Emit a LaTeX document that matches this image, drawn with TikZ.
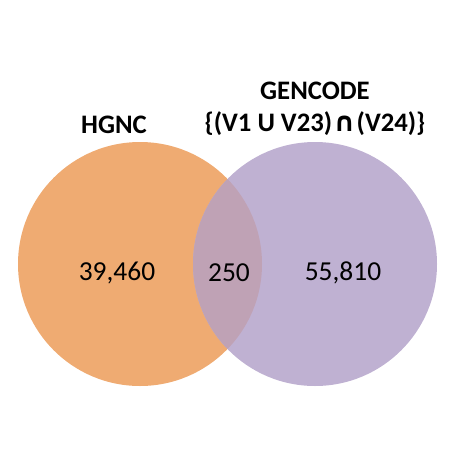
\documentclass[tikz,border=0pt]{standalone}
\usepackage{fontspec}
\setmainfont{Carlito}
\newfontfamily\symfont{DejaVu Sans}
\usepackage{xcolor}
\usepackage{tikz}
\definecolor{hgncorange}{HTML}{EFAB72}
\definecolor{gencpurple}{HTML}{BFB1D2}
\definecolor{overlapmauve}{HTML}{BFA2B5}

\begin{document}
\begin{tikzpicture}[x=0.025cm, y=-0.025cm,
    settitle/.style={font=\fontsize{19}{23}\selectfont\bfseries, align=center},
    setcount/.style={font=\fontsize{19.5}{22}\selectfont}]
    			\useasboundingbox (0,0) rectangle (474,474);
    			\coordinate (A) at (140,264);
    			\coordinate (B) at (315,264);
    			
    			\fill[hgncorange] (A) circle (122);
    			\fill[gencpurple] (B) circle (122);
    			\begin{scope}
    				\clip (A) circle (122);
    				\fill[overlapmauve] (B) circle (122);
    			\end{scope}
    			
    			\node[settitle] (hgnc) at (114,125) {HGNC};
    			\node[settitle] (gencode) at (315,109) {GENCODE\\{\{(V1 U V23)\kern1pt{\symfont ∩}\kern1pt(V24)\}}};
    			
    			\foreach \x/\y/\name/\label in {
    				117/273/left/{39,460},
    				229/273/both/250,
    				343/273/right/{55,810}
       			}{
    				\node[setcount] (\name) at (\x,\y) {\label};
    			}
    		\end{tikzpicture}
\end{document}
